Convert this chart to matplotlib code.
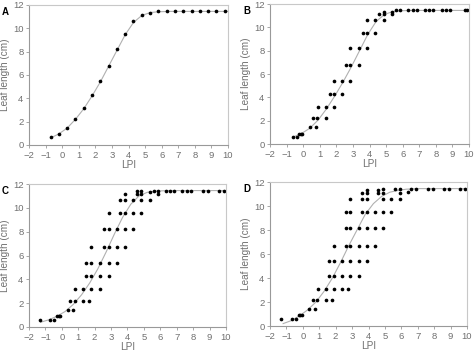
import matplotlib
matplotlib.use("Agg")
import matplotlib.pyplot as plt

plt.rcParams['font.family'] = ['Liberation Sans', 'DejaVu Sans']

# === Datos ===
# Panel A
xa = [-0.7, -0.2, 0.3, 0.8, 1.3, 1.8, 2.3, 2.8, 3.3, 3.8, 4.3, 4.8, 5.3, 5.8,
      6.3, 6.8, 7.3, 7.8, 8.3, 8.8, 9.3, 9.8]
ya = [0.65, 0.95, 1.45, 2.2, 3.15, 4.25, 5.45, 6.75, 8.25, 9.55, 10.65, 11.15, 11.35, 11.45,
      11.45, 11.45, 11.45, 11.45, 11.45, 11.45, 11.45, 11.45]
ca_x = [-0.7, -0.2, 0.3, 0.8, 1.3, 1.8, 2.3, 2.8, 3.3, 3.8, 4.3, 4.8, 5.3, 5.8, 6.5, 10]
ca_y = [0.6, 0.95, 1.45, 2.2, 3.1, 4.2, 5.4, 6.75, 8.1, 9.45, 10.5, 11.1, 11.35, 11.42, 11.45, 11.45]

# Panel B
xb = [-0.6, -0.4, -0.25, -0.15, -0.05, 0.4, 0.75, 0.6, 0.85, 1.35, 0.9, 1.35, 1.85,
      1.6, 1.85, 2.35, 1.85, 2.35, 2.85, 2.6, 2.85, 3.35, 2.85, 3.35, 3.85,
      3.6, 3.85, 4.35, 3.85, 4.35, 4.85, 4.6, 4.85, 4.85, 5.35, 5.35,
      5.6, 5.85, 6.35, 6.6, 6.85, 7.35, 7.6, 7.85, 8.35, 8.6, 8.85, 9.75, 9.9]
yb = [0.6, 0.6, 0.9, 0.9, 0.9, 1.45, 1.45, 2.2, 2.2, 2.2, 3.15, 3.15, 3.15,
      4.25, 4.25, 4.25, 5.4, 5.4, 5.4, 6.75, 6.75, 6.75, 8.25, 8.25, 8.25,
      9.55, 9.55, 9.55, 10.65, 10.65, 10.65, 11.15, 11.15, 11.35, 11.15, 11.3,
      11.45, 11.45, 11.45, 11.45, 11.45, 11.45, 11.45, 11.45, 11.45, 11.45, 11.45, 11.45, 11.45]
cb_x = [-0.6, -0.1, 0.4, 0.9, 1.4, 1.9, 2.4, 2.9, 3.4, 3.9, 4.4, 4.9, 5.4, 5.9, 6.5, 10]
cb_y = [0.6, 0.9, 1.35, 2.05, 3.0, 4.1, 5.3, 6.6, 8.0, 9.4, 10.5, 11.1, 11.35, 11.42, 11.45, 11.45]

# Panel C
xc = [-1.3, -0.7, -0.45, -0.3, -0.2, -0.1, 0.35, 0.65,
      0.5, 0.8, 1.3, 1.65, 0.8, 1.3, 1.8, 2.3,
      1.5, 1.8, 2.3, 2.85, 1.5, 1.8, 2.3, 2.85, 3.35,
      1.8, 2.55, 2.85, 3.35, 3.85, 2.55, 2.85, 3.35, 3.85, 4.35,
      2.85, 3.55, 3.85, 4.35, 4.85, 3.55, 3.85, 4.35, 4.85, 5.35,
      3.85, 4.55, 4.55, 4.85, 4.85, 5.35, 5.6, 5.85, 5.85, 6.35, 6.6, 6.85,
      7.35, 7.6, 7.85, 8.6, 8.9, 9.6, 9.9]
yc = [0.6, 0.6, 0.6, 0.9, 0.9, 0.9, 1.45, 1.45,
      2.2, 2.2, 2.2, 2.2, 3.15, 3.15, 3.15, 3.15,
      4.25, 4.25, 4.25, 4.25, 5.4, 5.4, 5.4, 5.4, 5.4,
      6.75, 6.75, 6.75, 6.75, 6.75, 8.25, 8.25, 8.25, 8.25, 8.25,
      9.55, 9.55, 9.55, 9.55, 9.55, 10.65, 10.65, 10.65, 10.65, 10.65,
      11.15, 11.2, 11.45, 11.2, 11.45, 11.3, 11.45, 11.45, 11.2, 11.45, 11.45, 11.45,
      11.45, 11.45, 11.45, 11.45, 11.45, 11.45, 11.45]
cc_x = [-1.3, -0.8, -0.3, 0.2, 0.7, 1.2, 1.7, 2.2, 2.7, 3.2, 3.7, 4.2, 4.7, 5.2, 5.7, 6.5, 10]
cc_y = [0.4, 0.6, 0.9, 1.3, 1.9, 2.7, 3.7, 4.9, 6.3, 7.8, 9.2, 10.3, 11.0, 11.3, 11.4, 11.45, 11.45]

# Panel D
xd = [-1.3, -0.65, -0.4, -0.25, -0.15, -0.05, 0.4, 0.75,
      0.6, 0.85, 1.4, 1.75, 0.9, 1.4, 1.9, 2.4, 2.75,
      1.6, 1.9, 2.4, 2.9, 3.4, 1.6, 1.9, 2.4, 2.9, 3.4, 3.9,
      1.9, 2.6, 2.9, 3.4, 3.9, 4.4, 2.6, 2.9, 3.4, 3.9, 4.4, 4.9,
      2.6, 2.9, 3.6, 3.9, 4.4, 4.9, 5.4, 2.9, 3.6, 3.9, 4.9, 5.4, 5.9,
      3.6, 3.9, 3.9, 4.6, 4.6, 4.9, 4.9, 5.6, 5.9, 5.9, 6.4, 6.6, 6.9,
      7.6, 7.9, 8.6, 8.9, 9.6, 9.9]
yd = [0.6, 0.6, 0.6, 0.9, 0.9, 0.9, 1.4, 1.4,
      2.2, 2.2, 2.2, 2.2, 3.1, 3.1, 3.1, 3.1, 3.1,
      4.2, 4.2, 4.2, 4.2, 4.2, 5.4, 5.4, 5.4, 5.4, 5.4, 5.4,
      6.7, 6.7, 6.7, 6.7, 6.7, 6.7, 8.2, 8.2, 8.2, 8.2, 8.2, 8.2,
      9.5, 9.5, 9.5, 9.5, 9.5, 9.5, 9.5, 10.6, 10.6, 10.6, 10.6, 10.6, 10.6,
      11.1, 11.1, 11.35, 11.1, 11.35, 11.1, 11.4, 11.4, 11.4, 11.1, 11.15, 11.4, 11.4,
      11.4, 11.4, 11.4, 11.4, 11.4, 11.4]
cd_x = [-1.2, -0.7, -0.2, 0.3, 0.8, 1.3, 1.8, 2.3, 2.8, 3.3, 3.8, 4.3, 4.8, 5.3, 5.8, 6.3, 7, 10]
cd_y = [0.2, 0.45, 0.85, 1.35, 2.0, 2.9, 4.0, 5.3, 6.7, 8.0, 9.3, 10.2, 10.8, 11.15, 11.3, 11.4, 11.45, 11.45]

paneles = [
    ("A", xa, ya, ca_x, ca_y, [29, 5, 199, 140]),
    ("B", xb, yb, cb_x, cb_y, [270, 4, 199, 140]),
    ("C", xc, yc, cc_x, cc_y, [29, 184, 197, 143]),
    ("D", xd, yd, cd_x, cd_y, [270, 182, 197, 144]),
]

W, H = 474, 351
fig = plt.figure(figsize=(W / 100, H / 100), dpi=100)

gris = "#707070"
for letra, x, y, cx, cy, (l, t, w, h) in paneles:
    ax = fig.add_axes([l / W, 1 - (t + h) / H, w / W, h / H])
    ax.plot(cx, cy, color="#b0b0b0", lw=0.8, zorder=1)
    ax.scatter(x, y, s=7, color="black", zorder=2, linewidths=0)
    ax.set_xlim(-2, 10)
    ax.set_ylim(0, 12)
    ax.set_xticks(range(-2, 11))
    ax.set_yticks(range(0, 13, 2))
    for s in ax.spines.values():
        s.set_color("#c8c8c8")
        s.set_linewidth(0.8)
    ax.spines["left"].set_color("#999999")
    ax.spines["bottom"].set_color("#999999")
    ax.tick_params(direction="out", length=2.5, width=0.6, color="#999999",
                   labelsize=6.8, labelcolor=gris, pad=1.5)
    ax.set_xlabel("LPI", fontsize=7.2, color=gris, labelpad=0)
    ax.set_ylabel("Leaf length (cm)", fontsize=7.2, color=gris, labelpad=2)
    fig.text((l - 27) / W, 1 - (t + 2) / H, letra, fontsize=7, fontweight="bold",
             ha="left", va="top")

fig.savefig("out.png", dpi=100)
